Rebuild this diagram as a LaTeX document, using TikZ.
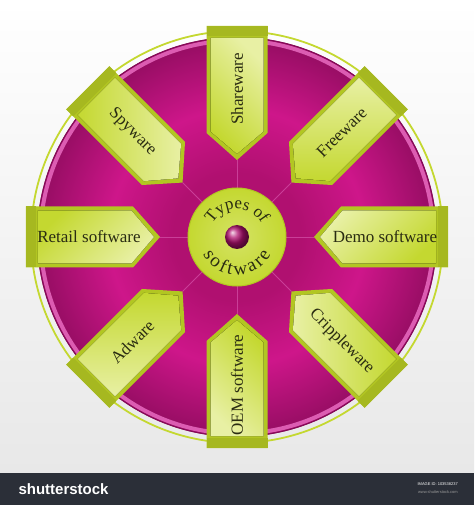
\documentclass[tikz,border=0pt]{standalone}
\usepackage{fontspec}
\setmainfont{Liberation Serif}
\newfontfamily\barfont{Liberation Sans}
\usetikzlibrary{decorations.text}

\definecolor{wheel}{HTML}{B01070}
\definecolor{wheelbright}{HTML}{CE168A}
\definecolor{wheeldark}{HTML}{820A55}
\definecolor{wheellight}{HTML}{DC5CB2}
\definecolor{lime}{HTML}{C4D830}
\definecolor{limedark}{HTML}{B2C622}
\definecolor{limelight}{HTML}{E8F0A4}
\definecolor{ink}{HTML}{2A2C12}
\definecolor{barbg}{HTML}{2B2F38}

\pgfdeclareradialshading{wheelshade}{\pgfpoint{0bp}{0bp}}{%
  color(0bp)=(wheel);color(8bp)=(wheel);color(16bp)=(wheelbright);
  color(28bp)=(wheeldark);color(50bp)=(wheeldark)}

% one ribbon arrow: angle, name, label, label rotation
\newcommand{\ribbon}[4]{%
  \pgfmathsetmacro{\litangle}{45-#1}
  \begin{scope}[rotate=#1]
    \fill[ribbon edge] (211,30.5) -- (104,30.5) -- (77,0) -- (104,-30.5) -- (211,-30.5) -- cycle;
    \fill[ribbon fold] (201,30.5) rectangle (211,-30.5);
    \fill[ribbon face,shading angle=\litangle] (199,26.5) -- (105.5,26.5) -- (83,0) -- (105.5,-26.5) -- (199,-26.5) -- cycle;
  \end{scope}
  \coordinate (#2-tip) at (#1:77);
  \node[ribbon text,rotate=#4] (#2) at (#1:148) {#3};
}

\begin{document}
\begin{tikzpicture}[x=1pt,y=1pt,
  ribbon edge/.style={fill=limedark},
  ribbon fold/.style={fill=limedark!93!black},
  ribbon face/.style={top color=limelight,bottom color=lime},
  ribbon text/.style={font=\fontsize{17}{17}\selectfont,text=ink,inner sep=0pt},
  seam/.style={draw=wheellight!60!wheel,line width=0.8},
  hub text/.style={decorate,decoration={text along path,text align=center,text color=ink}},
  core/.style={circle,minimum size=98pt,inner sep=0pt,draw=limedark,line width=1,
    inner color=limelight!45!lime,outer color=lime}]
  \useasboundingbox (-237,-268) rectangle (237,237);
  \fill[top color=white,bottom color=black!9] (-237,-236) rectangle (237,237);

  \coordinate (hub) at (0,0);
  % wheel
  \draw[lime,line width=1.8] (hub) circle (206);
  \shade[shading=wheelshade] (hub) circle (200);
  \draw[wheellight,line width=4] (hub) circle (196.5);
  \draw[wheeldark,line width=0.8] (hub) circle (199.6);

  \ribbon{90}{share}{Shareware}{90}
  \ribbon{45}{free}{Freeware}{45}
  \ribbon{0}{demo}{Demo software}{0}
  \ribbon{-45}{cripple}{Crippleware}{-45}
  \ribbon{-90}{oem}{OEM software}{90}
  \ribbon{-135}{ad}{Adware}{45}
  \ribbon{180}{retail}{Retail software}{0}
  \ribbon{135}{spy}{Spyware}{-45}

  \draw[seam] (share-tip) -- (hub);
  \draw[seam] (free-tip) -- (hub);
  \draw[seam] (demo-tip) -- (hub);
  \draw[seam] (cripple-tip) -- (hub);
  \draw[seam] (oem-tip) -- (hub);
  \draw[seam] (ad-tip) -- (hub);
  \draw[seam] (retail-tip) -- (hub);
  \draw[seam] (spy-tip) -- (hub);

  \node[core] (core) at (hub) {};
  \shade[ball color=wheel] (hub) circle (12);
  \path[hub text,decoration={text={|\fontsize{17}{17}\selectfont|Types of}}]
    (180:28) arc[start angle=180,end angle=0,radius=28];
  \path[hub text,decoration={text align=fit to path,text={|\fontsize{19}{19}\selectfont|software}}]
    (207:38) arc[start angle=207,end angle=333,radius=38];

  % footer
  \fill[barbg] (-237,-236) rectangle (237,-268);
  \node[anchor=west,text=white,font=\barfont\bfseries\fontsize{15}{15}\selectfont] (brand) at (-222,-252) {shutterstock};
  \node[anchor=east,text=white,font=\barfont\fontsize{4}{4}\selectfont,inner sep=0pt] (imgid) at (221,-247) {IMAGE ID: 103538237};
  \node[anchor=east,text=black!40,font=\barfont\fontsize{4}{4}\selectfont,inner sep=0pt] (site) at (221,-255) {www.shutterstock.com};
\end{tikzpicture}
\end{document}
